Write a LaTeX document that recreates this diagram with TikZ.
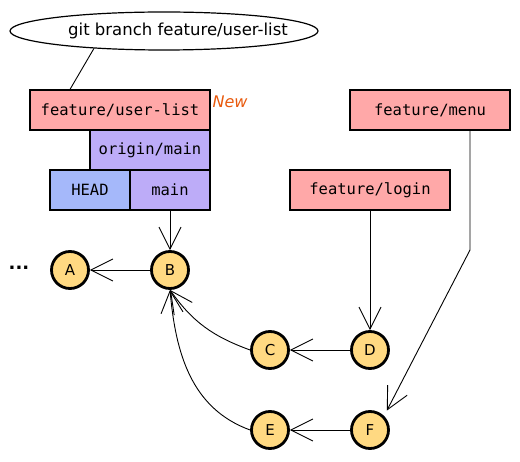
\documentclass[tikz,border=0pt]{standalone}
\usepackage{fontspec}
\setmainfont{DejaVu Sans}
\newfontfamily\codefont{DejaVu Sans Mono}
\usetikzlibrary{shapes.geometric,arrows.meta,positioning}

\definecolor{branchpink}{HTML}{FFA8A8}
\definecolor{mainpurple}{HTML}{BDACF8}
\definecolor{headblue}{HTML}{A5B8FA}
\definecolor{commityellow}{HTML}{FFD982}
\definecolor{neworange}{HTML}{E8590C}

\begin{document}
\begin{tikzpicture}[
    x=1pt, y=-1pt,
    font=\fontsize{15}{18}\selectfont,
    ref/.style={draw, line width=1.2pt, minimum height=40pt, inner sep=0pt, font=\codefont\fontsize{15.5}{18}\selectfont},
    branch/.style={ref, fill=branchpink},
    mainref/.style={ref, fill=mainpurple},
    headref/.style={ref, fill=headblue},
    commit/.style={circle, draw, line width=2.8pt, fill=commityellow, minimum size=37pt, inner sep=0pt},
    arrow/.style={-{Straight Barb[length=22pt, width=22pt, line width=0.9pt]}, line width=0.9pt}
]
\useasboundingbox (0,0) rectangle (520,462);

% command callout
\node[ellipse, draw, line width=1.2pt, minimum width=308pt, minimum height=38pt, inner sep=0pt,
      label={[xshift=14pt, font=\fontsize{16.5}{18}\selectfont]center:git branch feature/user-list}] (cmd) at (164,31) {};

% refs
\node[branch, minimum width=180pt] (userlist) at (120,110) {feature/user-list};
\node[mainref, minimum width=120pt] (originmain) at (150,150) {origin/main};
\node[headref, minimum width=80pt] (head) at (90,190) {HEAD};
\node[mainref, minimum width=80pt] (main) at (170,190) {main};
\node[branch, minimum width=160pt] (menu) at (430,110) {feature/menu};
\node[branch, minimum width=160pt] (login) at (370,190) {feature/login};
\node[text=neworange, font=\itshape\fontsize{16}{18}\selectfont] (new) at (230,102) {New};

% commits
\node[font=\bfseries\fontsize{18}{20}\selectfont] (dots) at (19,268) {...};
\node[commit] (A) at (70,270) {A};
\node[commit] (B) at (170,270) {B};
\node[commit] (C) at (270,350) {C};
\node[commit] (D) at (370,350) {D};
\node[commit] (E) at (270,430) {E};
\node[commit] (F) at (370,430) {F};
\coordinate (menubend) at (470,250);

\draw[line width=0.9pt] (cmd.194) -- ([xshift=-50pt]userlist.north);

\draw[arrow] (main.south) -- (B.north);
\draw[arrow] (B.west) -- (A.east);
\draw[arrow] (D.west) -- (C.east);
\draw[arrow] (F.west) -- (E.east);
\draw[arrow] (login.south) -- (D.north);
\draw[arrow] (C.west) to[out=160, in=-55] (B.south);
\draw[arrow] (E.west) to[out=160, in=-85] (B.south);
\draw[arrow, shorten >=6pt] ([xshift=40pt]menu.south) -- (menubend) -- (F.north east);

\end{tikzpicture}
\end{document}
